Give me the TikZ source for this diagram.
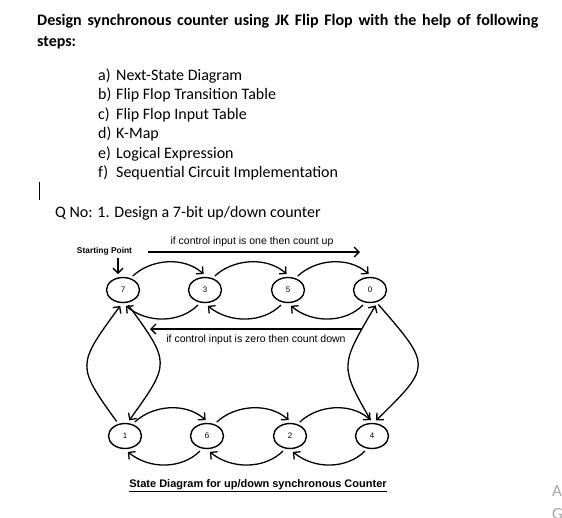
\documentclass[tikz,border=0pt]{standalone}
\usepackage{fontspec}
\setmainfont{Carlito}
\newfontfamily\arialf{Liberation Sans}
\usetikzlibrary{arrows.meta,shapes.geometric,calc}
\begin{document}
\begin{tikzpicture}[x=1pt,y=-1pt,
  st/.style={draw,ellipse,line width=1.4pt,minimum width=33pt,minimum height=25pt,inner sep=0pt,outer sep=3.5pt,font=\arialf\fontsize{8}{9}\selectfont},
  arr/.style={line width=1.3pt,-{Straight Barb[length=5pt,width=10pt]}},
  txt/.style={inner sep=0pt,anchor=base west},
  body/.style={font=\fontsize{16}{19}\selectfont},
  dtxt/.style={inner sep=0pt,font=\arialf\fontsize{10.5}{12}\selectfont}]
\useasboundingbox (0,0) rectangle (562,517);
% header text
\node[txt,font=\bfseries\fontsize{16}{19}\selectfont] (title) at (37,25) {\makebox[501pt][s]{Design synchronous counter using JK Flip Flop with the help of following}};
\node[txt,font=\bfseries\fontsize{16}{19}\selectfont] (steps) at (37,46) {steps:};
\node[txt,body] (la) at (98,80) {\makebox[18pt][l]{a)}Next-State Diagram};
\node[txt,body] (lb) at (98,99.5) {\makebox[18pt][l]{b)}Flip Flop Transition Table};
\node[txt,body] (lc) at (98,119) {\makebox[18pt][l]{c)}Flip Flop Input Table};
\node[txt,body] (ld) at (98,138.5) {\makebox[18pt][l]{d)}K-Map};
\node[txt,body] (le) at (98,158) {\makebox[18pt][l]{e)}Logical Expression};
\node[txt,body] (lf) at (98,177.5) {\makebox[18pt][l]{f)}Sequential Circuit Implementation};
\draw[line width=0.9pt] (39,182) -- (39,200);
\node[txt,body] (qno) at (55,217) {Q No: 1. Design a 7-bit up/down counter};
% states
\node[st] (n7) at (123,290) {7};
\node[st] (n3) at (205,290) {3};
\node[st] (n5) at (288,290) {5};
\node[st] (n0) at (370,290) {0};
\node[st] (n1) at (125,436) {1};
\node[st] (n6) at (207,436) {6};
\node[st] (n2) at (290,436) {2};
\node[st] (n4) at (372,436) {4};
% labels
\node[dtxt] (topl) at (252,242) {if control input is one then count up};
\node[dtxt] (midl) at (256,340) {if control input is zero then count down};
\node[inner sep=0pt,font=\arialf\bfseries\fontsize{8.4}{10}\selectfont] (spt) at (104.5,251) {Starting Point};
\node[inner sep=0pt,font=\arialf\bfseries\fontsize{11}{13}\selectfont] (cap) at (258,486) {\underline{State Diagram for up/down synchronous Counter}};
\node[inner sep=0pt,anchor=north west,text=black!35,font=\fontsize{17}{20}\selectfont] (ga) at (552,485) {A};
\node[inner sep=0pt,anchor=north west,text=black!35,font=\fontsize{17}{20}\selectfont] (gg) at (552,508) {G};
% straight arrows
\coordinate (ta1) at (148,252);
\coordinate (ta2) at (360,252);
\draw[arr] (ta1) -- (ta2);
\coordinate (ma1) at (362,329);
\coordinate (ma2) at (150,329);
\draw[arr] (ma1) -- (ma2);
\coordinate (spa) at (118,258);
\draw[arr] (spa) -- (spa |- n7.north);
% top row
\draw[arr] (n7.55) .. controls +(18,-17) and +(-20,-18) .. (n3.95);
\draw[arr] (n3.55) .. controls +(18,-17) and +(-20,-18) .. (n5.95);
\draw[arr] (n5.55) .. controls +(18,-17) and +(-20,-18) .. (n0.95);
\draw[arr] (n3.245) .. controls +(-18,18) and +(22,18) .. (n7.280);
\draw[arr] (n5.245) .. controls +(-18,18) and +(22,18) .. (n3.280);
\draw[arr] (n0.245) .. controls +(-18,18) and +(22,18) .. (n5.280);
% bottom row
\draw[arr] (n1.55) .. controls +(18,-17) and +(-20,-18) .. (n6.95);
\draw[arr] (n6.55) .. controls +(18,-17) and +(-20,-18) .. (n2.95);
\draw[arr] (n2.55) .. controls +(18,-17) and +(-20,-18) .. (n4.95);
\draw[arr] (n6.245) .. controls +(-18,18) and +(22,18) .. (n1.280);
\draw[arr] (n2.245) .. controls +(-18,18) and +(22,18) .. (n6.280);
\draw[arr] (n4.245) .. controls +(-18,18) and +(22,18) .. (n2.280);
% lenses
\draw[arr] (n1.120) .. controls (76.5,365.5) .. (n7.260);
\draw[arr] (n7.290) .. controls (170.5,363) .. (n1.75);
\draw[arr] (n4.95) .. controls (339.7,366) .. (n0.290);
\draw[arr] (n0.300) .. controls (431.7,365.9) .. (n4.75);
\end{tikzpicture}
\end{document}
